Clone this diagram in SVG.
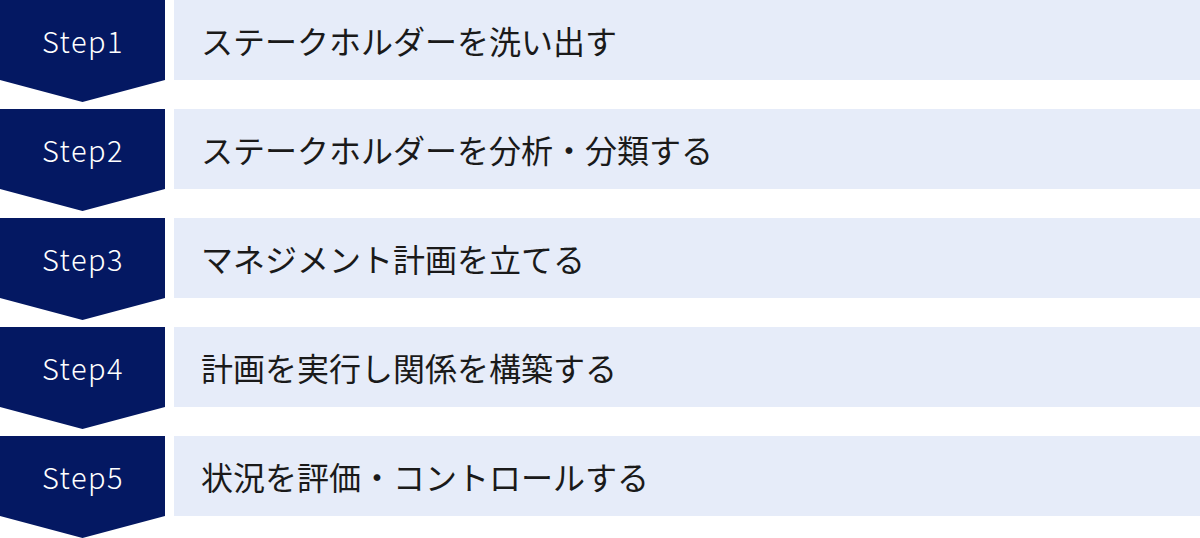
<svg xmlns="http://www.w3.org/2000/svg" width="1200" height="538" viewBox="0 0 1200 538">
<style>
.chev{fill:#041862}
.bar{fill:#E6ECF9}
.step{font-family:"Noto Sans CJK JP","Noto Sans",sans-serif;font-size:29px;font-weight:300;fill:#ffffff;text-anchor:middle;letter-spacing:1.5px}
.lbl{font-family:"Noto Sans CJK JP","Noto Sans",sans-serif;font-size:32px;fill:#1a1a1a}
</style>
<rect width="1200" height="538" fill="#ffffff"/>
<g id="step1">
<polygon class="chev" points="0,0 165,0 165,80 82.5,102 0,80"/>
<rect class="bar" x="174" y="0" width="1026" height="80"/>
<text class="step" x="83" y="52.5">Step1</text>
<text class="lbl" x="201" y="54">ステークホルダーを洗い出す</text>
</g>
<g id="step2">
<polygon class="chev" points="0,109 165,109 165,189 82.5,211 0,189"/>
<rect class="bar" x="174" y="109" width="1026" height="80"/>
<text class="step" x="83" y="161.5">Step2</text>
<text class="lbl" x="201" y="163">ステークホルダーを分析・分類する</text>
</g>
<g id="step3">
<polygon class="chev" points="0,218 165,218 165,298 82.5,320 0,298"/>
<rect class="bar" x="174" y="218" width="1026" height="80"/>
<text class="step" x="83" y="270.5">Step3</text>
<text class="lbl" x="201" y="272">マネジメント計画を立てる</text>
</g>
<g id="step4">
<polygon class="chev" points="0,327 165,327 165,407 82.5,429 0,407"/>
<rect class="bar" x="174" y="327" width="1026" height="80"/>
<text class="step" x="83" y="379.5">Step4</text>
<text class="lbl" x="201" y="381">計画を実行し関係を構築する</text>
</g>
<g id="step5">
<polygon class="chev" points="0,436 165,436 165,516 82.5,538 0,516"/>
<rect class="bar" x="174" y="436" width="1026" height="80"/>
<text class="step" x="83" y="488.5">Step5</text>
<text class="lbl" x="201" y="490">状況を評価・コントロールする</text>
</g>
<g id="connectors"/>
</svg>
